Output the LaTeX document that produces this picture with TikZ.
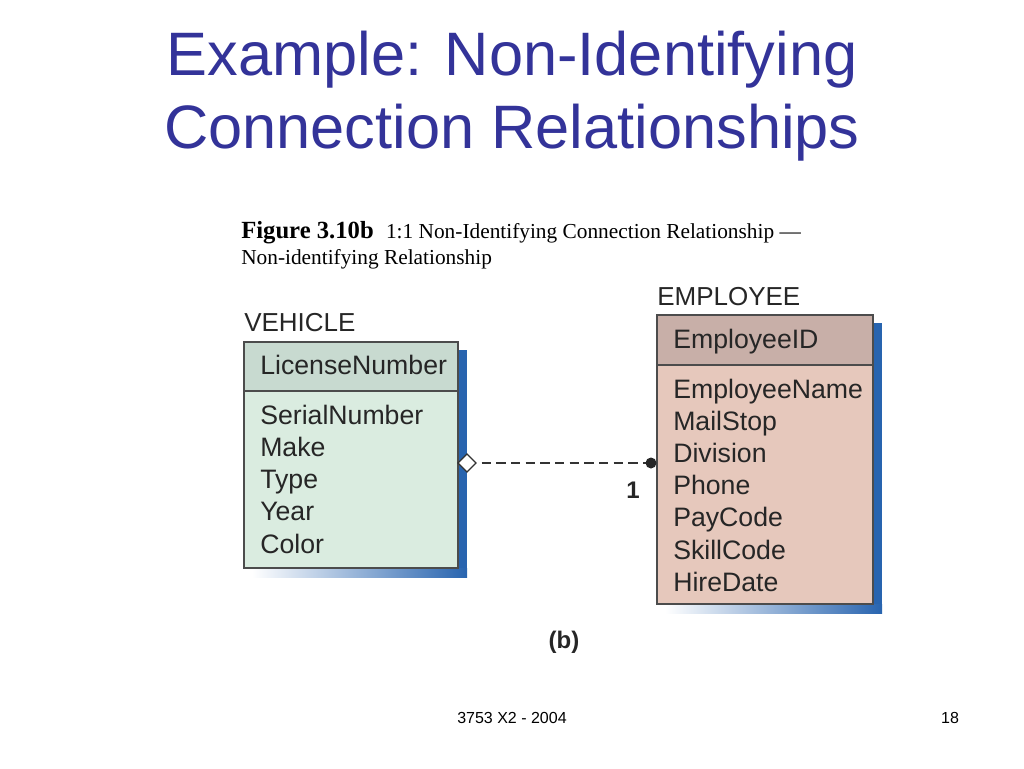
\documentclass[tikz,border=0pt]{standalone}
\usepackage{fontspec}
\setmainfont{Liberation Sans}
\newfontfamily\serif{Liberation Serif}
\begin{document}
\begin{tikzpicture}[x=0.75pt,y=-0.75pt,
  attr/.style={anchor=base west,font=\fontsize{20}{22}\selectfont,text=black!85,inner sep=0pt},
  ent/.style={anchor=base west,font=\fontsize{19.5}{22}\selectfont,text=black!85,inner sep=0pt},
  box/.style={draw=black!70,line width=0.9pt}]
\useasboundingbox (0,0) rectangle (1024,768);
\definecolor{ttl}{RGB}{51,51,153}
\definecolor{shb}{RGB}{40,100,175}
\definecolor{vh}{RGB}{200,218,208}
\definecolor{vb}{RGB}{218,236,224}
\definecolor{eh}{RGB}{200,175,168}
\definecolor{eb}{RGB}{230,200,188}
\node[font=\fontsize{46}{50}\selectfont,text=ttl] (t1) at (512,60) {Example: Non-Identifying};
\node[font=\fontsize{46}{50}\selectfont,text=ttl] (t2) at (512,133) {Connection Relationships};
\node[anchor=base west,inner sep=0pt,font=\serif\fontsize{16}{18}\selectfont] (cap1) at (241,238) {\fontsize{18.5}{20}\selectfont\bfseries Figure 3.10b\ \ \fontsize{16}{18}\mdseries 1:1 Non-Identifying Connection Relationship \textemdash};
\node[anchor=base west,inner sep=0pt,font=\serif\fontsize{16}{18}\selectfont] (cap2) at (241,264) {Non-identifying Relationship};
% vehicle
\fill[shb] (458,350) rectangle (467,577);
\shade[left color=white,right color=shb] (252,568) rectangle (467,577);
\draw[box,fill=vb] (244,391) rectangle (458,568);
\draw[box,fill=vh] (244,342) rectangle (458,391);
\node[ent] (vt) at (244,331) {VEHICLE};
\node[attr] (v0) at (260,374) {LicenseNumber};
\foreach \t [count=\i from 0] in {SerialNumber,Make,Type,Year,Color}
  \node[attr] (v\i) at (260,424+32.3*\i) {\t};
% employee
\fill[shb] (873,323) rectangle (882,613);
\shade[left color=white,right color=shb] (665,604) rectangle (882,613);
\draw[box,fill=eb] (657,365) rectangle (873,604);
\draw[box,fill=eh] (657,315) rectangle (873,365);
\node[ent] (et) at (657,305) {EMPLOYEE};
\node[attr] (e0) at (673,348) {EmployeeID};
\foreach \t [count=\i from 0] in {EmployeeName,MailStop,Division,Phone,PayCode,SkillCode,HireDate}
  \node[attr] (e\i) at (673,398+32.2*\i) {\t};
% connector
\coordinate (ca) at (467,463);
\coordinate (cb) at (651,463);
\draw[black!80,line width=1pt,dash pattern=on 7pt off 4pt] (ca) -- (cb);
\draw[black!80,line width=1pt,fill=white] (458,463) -- (467,454) -- (476,463) -- (467,472) -- cycle;
\fill[black!85] (cb) circle (5.5);
\node[font=\fontsize{18}{20}\selectfont\bfseries,text=black!85] (one) at (633,490) {1};
\node[font=\fontsize{18}{20}\selectfont\bfseries,text=black!85] (b) at (564,642) {(b)};
\node[font=\fontsize{12}{14}\selectfont] (f1) at (512,718) {3753 X2 - 2004};
\node[font=\fontsize{12}{14}\selectfont] (f2) at (950,718) {18};
\end{tikzpicture}
\end{document}
